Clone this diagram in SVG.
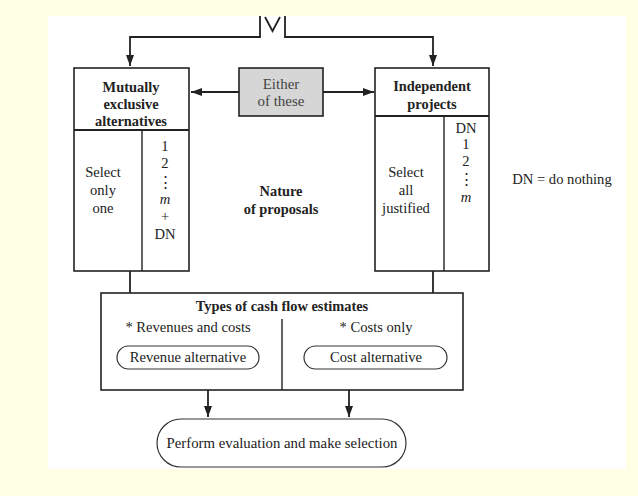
<svg xmlns="http://www.w3.org/2000/svg" width="638" height="496" viewBox="0 0 638 496">
<style>
text{font-family:"Liberation Serif","DejaVu Serif",serif;fill:#222;font-size:14.6px;text-anchor:middle}
.b{font-weight:bold;font-size:14.4px}
.box{fill:#fff;stroke:#222;stroke-width:1.6}
.ln{fill:none;stroke:#222;stroke-width:1.8}
.g{fill:#444;font-size:15px}
.it{font-style:italic}
</style>
<defs>
<marker id="ah" markerUnits="userSpaceOnUse" markerWidth="11" markerHeight="8" refX="11" refY="4" orient="auto">
<path d="M0,0 L11,4 L0,8 z" fill="#222"/>
</marker>
</defs>
<rect x="0" y="0" width="638" height="496" fill="#FFFFE6"/>
<rect x="48" y="16" width="578" height="453" fill="#fff"/>

<g id="connectors">
<polyline class="ln" points="260,16 260,37 130,37 130,66" marker-end="url(#ah)"/>
<polyline class="ln" points="285,16 285,37 433,37 433,66" marker-end="url(#ah)"/>
<polyline class="ln" points="265,17 272.5,31 280,17"/>
<line class="ln" x1="239" y1="92" x2="191" y2="92" marker-end="url(#ah)"/>
<line class="ln" x1="323" y1="92" x2="374" y2="92" marker-end="url(#ah)"/>
<line class="ln" x1="130" y1="271" x2="130" y2="293"/>
<line class="ln" x1="433" y1="271" x2="433" y2="293"/>
<line class="ln" x1="208" y1="390" x2="208" y2="417" marker-end="url(#ah)"/>
<line class="ln" x1="349" y1="390" x2="349" y2="417" marker-end="url(#ah)"/>
</g>

<g id="mutually-exclusive">
<rect class="box" x="74" y="68" width="115" height="203"/>
<line class="ln" x1="74" y1="130" x2="189" y2="130"/>
<line class="ln" x1="142" y1="130" x2="142" y2="271" style="stroke-width:1.4"/>
<text class="b" x="131" y="92">Mutually</text>
<text class="b" x="131" y="109">exclusive</text>
<text class="b" x="131" y="126">alternatives</text>
<text x="103" y="177">Select</text>
<text x="103" y="195">only</text>
<text x="103" y="213">one</text>
<text x="165" y="151">1</text>
<text x="165" y="168">2</text>
<text x="165" y="187">⋮</text>
<text class="it" x="165" y="204">m</text>
<text x="165" y="221">+</text>
<text x="165" y="239">DN</text>
</g>

<g id="either">
<rect x="239" y="68" width="84" height="48" fill="#d6d6d6" stroke="#222" stroke-width="1.6"/>
<text class="g" x="281" y="89">Either</text>
<text class="g" x="281" y="106">of these</text>
</g>

<g id="independent">
<rect class="box" x="375" y="68" width="114" height="203"/>
<line class="ln" x1="375" y1="116" x2="489" y2="116"/>
<line class="ln" x1="444" y1="116" x2="444" y2="271" style="stroke-width:1.4"/>
<text class="b" x="432" y="91">Independent</text>
<text class="b" x="432" y="109">projects</text>
<text x="406" y="177">Select</text>
<text x="406" y="195">all</text>
<text x="406" y="213">justified</text>
<text x="466" y="133">DN</text>
<text x="466" y="149">1</text>
<text x="466" y="166">2</text>
<text x="466" y="184">⋮</text>
<text class="it" x="466" y="202">m</text>
</g>

<g id="nature">
<text class="b" x="281" y="196">Nature</text>
<text class="b" x="281" y="214">of proposals</text>
</g>

<g id="legend">
<text x="562" y="184">DN = do nothing</text>
</g>

<g id="types">
<rect class="box" x="101" y="293" width="362" height="97"/>
<line class="ln" x1="282" y1="319" x2="282" y2="390" style="stroke-width:1.4"/>
<text class="b" x="282" y="311">Types of cash flow estimates</text>
<text x="188" y="332">* Revenues and costs</text>
<text x="376" y="332">* Costs only</text>
<rect x="117" y="346" width="142" height="23" rx="11.5" fill="#fff" stroke="#333" stroke-width="1.2"/>
<text x="188" y="362">Revenue alternative</text>
<rect x="304" y="346" width="143" height="23" rx="11.5" fill="#fff" stroke="#333" stroke-width="1.2"/>
<text x="376" y="362">Cost alternative</text>
</g>

<g id="perform">
<rect x="157" y="419" width="249" height="48" rx="24" fill="#fff" stroke="#333" stroke-width="1.2"/>
<text x="282" y="448" style="font-size:14.8px">Perform evaluation and make selection</text>
</g>
</svg>
